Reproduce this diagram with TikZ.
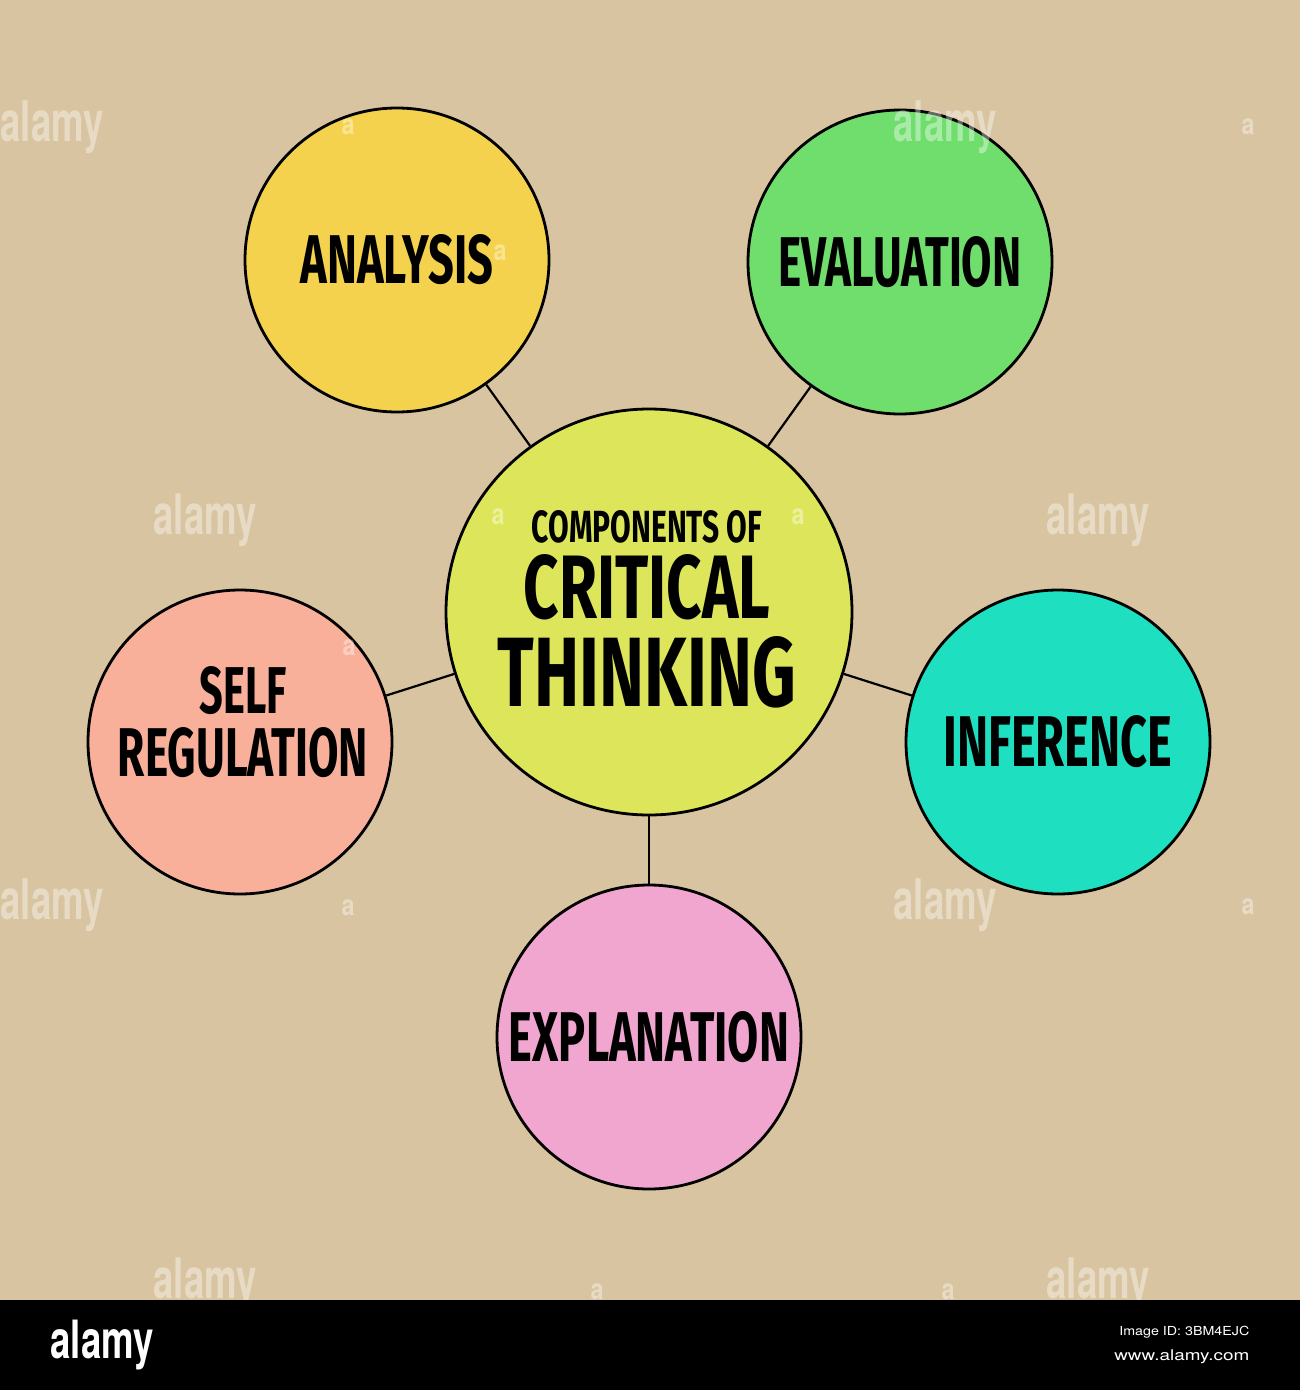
\documentclass[tikz,border=0pt]{standalone}
\usepackage{fontspec}
\usepackage{graphicx}
\setmainfont{Fira Sans}
\newfontfamily\markfont{TeX Gyre Heros}
\definecolor{paper}{HTML}{D8C4A0}
\definecolor{anacol}{HTML}{F5D24E}
\definecolor{evacol}{HTML}{6FDE6C}
\definecolor{hubcol}{HTML}{DDE65A}
\definecolor{regcol}{HTML}{F8B09A}
\definecolor{infcol}{HTML}{1EE0C0}
\definecolor{expcol}{HTML}{F0A6CF}
% hand lettering: stretch a word to the box it takes in the picture
\newcommand{\hand}[3]{\resizebox{#1}{#2}{\bfseries #3}}
\newcommand{\stamp}[3]{\resizebox*{#1}{#2}{\markfont\bfseries #3}}

\begin{document}
\begin{tikzpicture}[x=0.1mm, y=-0.1mm,
  bubble/.style={circle, draw=black, line width=0.28mm, minimum size=30.4mm,
    inner sep=0pt, align=center, font=\fontsize{2}{2}\selectfont},
  hub/.style={bubble, minimum size=40.6mm},
  words/.style={inner sep=0pt, align=center, font=\fontsize{2}{2}\selectfont},
  link/.style={draw=black, line width=0.22mm},
  wmark/.style={text=white, opacity=0.4, inner sep=0pt}]
  \useasboundingbox (0,0) rectangle (1300,1390);
  \fill[paper] (0,0) rectangle (1300,1300);

  % the bubbles
  \node[hub, fill=hubcol] (hub) at (649,612) {};
  \node[bubble, fill=anacol] (ana) at (397,260) {\hand{19.3mm}{4.9mm}{ANALYSIS}};
  \node[bubble, fill=evacol] (eva) at (900,262) {\hand{24.3mm}{5.0mm}{EVALUATION}};
  \node[bubble, fill=regcol] (reg) at (240,742) {};
  \node[bubble, fill=infcol] (inf) at (1058,742) {\hand{22.9mm}{5.1mm}{INFERENCE}};
  \node[bubble, fill=expcol] (exp) at (649,1037) {\hand{28.0mm}{5.0mm}{EXPLANATION}};

  \node[words] (hubtext) at (647,609) {\hand{23.0mm}{3.2mm}{COMPONENTS OF}\\[0.75mm]
    \hand{24.6mm}{6.4mm}{CRITICAL}\\[1.3mm]
    \hand{29.8mm}{7.0mm}{THINKING}};
  \node[words] (regtext) at (243,722) {\hand{8.7mm}{4.7mm}{SELF}\\[0.95mm]
    \hand{25.0mm}{4.9mm}{REGULATION}};

  % watermarks
  \foreach \p/\n in {(52,127)/1, (945,127)/2, (205,520)/3, (1098,520)/4,
                     (52,905)/5, (945,905)/6, (205,1284)/7, (1098,1284)/8}
    \node[wmark] (wm\n) at \p {\stamp{10.3mm}{5.3mm}{alamy}};
  \foreach \q/\n in {(348,127)/1, (1248,127)/2, (348,908)/3, (1248,907)/4,
                     (500,253)/5, (498,517)/6, (798,517)/7, (349,648)/8,
                     (597,1292)/9, (948,1292)/10}
    \node[wmark] (wa\n) at \q {\stamp{1.3mm}{1.6mm}{a}};

  % connectors
  \draw[link] (ana) -- (hub);
  \draw[link] (eva) -- (hub);
  \draw[link] (reg) -- (hub);
  \draw[link] (inf) -- (hub);
  \draw[link] (exp) -- (hub);

  % bottom bar
  \fill[black] (0,1300) rectangle (1300,1390);
  \node[inner sep=0pt, text=white] (logo) at (102,1345) {\stamp{10.3mm}{5.0mm}{alamy}};
  \node[inner sep=0pt, text=white, anchor=east] (imgid) at (1250,1332)
    {\resizebox*{13.0mm}{1.2mm}{\markfont Image ID: 3BM4EJC}};
  \node[inner sep=0pt, text=white, anchor=east] (site) at (1250,1357)
    {\resizebox*{13.5mm}{1.4mm}{\markfont www.alamy.com}};
\end{tikzpicture}
\end{document}
